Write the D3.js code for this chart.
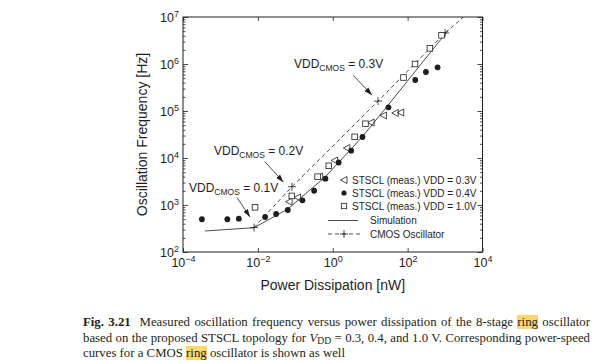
<!DOCTYPE html>
<html>
<head>
<meta charset="utf-8">
<script src="https://cdn.jsdelivr.net/npm/d3@7"></script>
<style>
  body { margin: 0; background: #fff; }
  #wrap { position: relative; width: 600px; height: 362px; overflow: hidden; }
  section svg { position: absolute; left: 0; top: 0; }
  .cap { position: absolute; left: 83px; top: 315px; width: 507px;
         font-family: "Liberation Serif", "Times New Roman", serif; font-size: 12.8px;
         color: #231f20; line-height: 15.5px; }
  .cap div { white-space: nowrap; }
  .cap .j { text-align: justify; text-align-last: justify; }
  .cap sub { font-size: 0.75em; vertical-align: -0.25em; line-height: 0; }
  mark { background: #fbd772; color: inherit; padding: 0; }
</style>
</head>
<body>
<div id="wrap">
  <section></section>
  <div class="cap">
    <div class="j"><b>Fig. 3.21</b>&nbsp; Measured oscillation frequency versus power dissipation of the 8-stage <mark>ring</mark> oscillator</div>
    <div class="j">based on the proposed STSCL topology for <i>V</i><sub>DD</sub> = 0.3, 0.4, and 1.0 V. Corresponding power-speed</div>
    <div>curves for a CMOS <mark>ring</mark> oscillator is shown as well</div>
  </div>
</div>
<script>
// power in nW, frequency in Hz
const power03 = [0.0682, 0.115, 0.447, 1.12, 2.38, 10.6, 22.7, 46.8, 65.3];
const freq03  = [1175, 1445, 4040, 8850, 16300, 56900, 80200, 90600, 92900];

const power04 = [3.2e-4, 1.53e-3, 3.1e-3, 0.0156, 0.0307, 0.063, 0.155, 0.318, 0.638, 1.44, 3.10, 6.22, 30.8, 160, 308, 631];
const freq04  = [497, 497, 512, 556, 644, 783, 1260, 2010, 3630, 8020, 14300, 28000, 120000, 457000, 676000, 851000];

const power10 = [8.4e-3, 0.0805, 0.394, 0.782, 3.85, 7.48, 77.6, 158, 393, 805];
const freq10  = [893, 1560, 4000, 6820, 28200, 53500, 516000, 1.0e6, 2.16e6, 4.08e6];

const simPower = [3.87e-4, 7.9e-3, 0.0615, 0.627, 6.11, 30.3, 1010, 1220];
const simFreq  = [280, 329, 811, 3940, 28000, 134000, 4.35e6, 5.28e6];

const cmosPower = [7.9e-3, 0.0813, 16.2, 1000, 3090];
const cmosFreq  = [331, 2450, 162000, 4.57e6, 1e7];
const cmosMarked = [true, true, true, true, false];

const xTicks = [1e-4, 1e-2, 1, 1e2, 1e4];
const yTicks = [1e2, 1e3, 1e4, 1e5, 1e6, 1e7];

const legendLabels = ['STSCL (meas.) VDD = 0.3V', 'STSCL (meas.) VDD = 0.4V', 'STSCL (meas.) VDD = 1.0V', 'Simulation', 'CMOS Oscillator'];
const notes = [
  { i: 2, label: ' = 0.3V' },
  { i: 1, label: ' = 0.2V' },
  { i: 0, label: ' = 0.1V' }
];

const L = 183, R = 482.5, T = 17, B = 252;
const ink = '#1e1e1e';
const font = '"Liberation Sans", Arial, Helvetica, sans-serif';

const svg = d3.select('section')
  .append('svg')
  .attr('width', 600)
  .attr('height', 312)
  .style('font-family', font);

const x = d3.scaleLog().domain([1e-4, 1e4]).range([L, R]);
const y = d3.scaleLog().domain([1e2, 1e7]).range([B, T]);

const yMinor = [];
for (let k = 2; k < 7; k++) d3.range(2, 10).forEach(m => yMinor.push(m * Math.pow(10, k)));

svg.append('defs').append('clipPath').attr('id', 'plot')
  .append('rect').attr('x', L).attr('y', T).attr('width', R - L).attr('height', B - T);

svg.select('defs').append('marker')
  .attr('id', 'head')
  .attr('markerUnits', 'userSpaceOnUse')
  .attr('markerWidth', 9).attr('markerHeight', 6)
  .attr('refX', 8).attr('refY', 3)
  .attr('orient', 'auto')
  .append('path').attr('d', 'M0,0.4 L8,3 L0,5.6 Z').attr('fill', ink);

function pow10(text) {
  text.each(function (d) {
    const e = Math.round(Math.log10(d));
    const t = d3.select(this).text(null);
    t.append('tspan').text('10');
    t.append('tspan').attr('dy', -5).attr('font-size', '9px').text(e < 0 ? '\u2212' + (-e) : e);
  });
}

function style(g) {
  g.attr('font-family', font).attr('font-size', 12.5);
  g.select('.domain').remove();
  g.selectAll('line').attr('stroke', ink).attr('stroke-width', 0.8);
  g.selectAll('text').attr('fill', ink);
}

// axes
svg.append('g').attr('transform', `translate(0,${B})`)
  .call(d3.axisBottom(x).tickValues(xTicks).tickSizeInner(-4).tickSizeOuter(0).tickPadding(6))
  .call(style)
  .call(g => g.selectAll('text').call(pow10));
svg.append('g').attr('transform', `translate(0,${T})`)
  .call(d3.axisTop(x).tickValues(xTicks).tickSizeInner(-4).tickSizeOuter(0).tickFormat(''))
  .call(style);
svg.append('g').attr('transform', `translate(${L},0)`)
  .call(d3.axisLeft(y).tickValues(yTicks).tickSizeInner(-5).tickSizeOuter(0).tickPadding(4))
  .call(style)
  .call(g => g.selectAll('text').call(pow10));
svg.append('g').attr('transform', `translate(${L},0)`)
  .call(d3.axisLeft(y).tickValues(yMinor).tickSizeInner(-2.5).tickSizeOuter(0).tickFormat(''))
  .call(style);
svg.append('g').attr('transform', `translate(${R},0)`)
  .call(d3.axisRight(y).tickValues(yTicks).tickSizeInner(-5).tickSizeOuter(0).tickFormat(''))
  .call(style);
svg.append('g').attr('transform', `translate(${R},0)`)
  .call(d3.axisRight(y).tickValues(yMinor).tickSizeInner(-2.5).tickSizeOuter(0).tickFormat(''))
  .call(style);

svg.append('rect')
  .attr('x', L).attr('y', T).attr('width', R - L).attr('height', B - T)
  .attr('fill', 'none').attr('stroke', ink).attr('stroke-width', 1);

svg.append('text')
  .attr('x', x(1)).attr('y', 290)
  .attr('text-anchor', 'middle').attr('font-size', 14).attr('fill', ink)
  .text('Power Dissipation [nW]');
svg.append('text')
  .attr('transform', `translate(147,${(T + B) / 2}) rotate(-90)`)
  .attr('text-anchor', 'middle').attr('font-size', 14).attr('fill', ink)
  .text('Oscillation Frequency [Hz]');

// lines
const plot = svg.append('g').attr('clip-path', 'url(#plot)');
const line = d3.line().x(d => x(d[0])).y(d => y(d[1]));

plot.append('path')
  .datum(d3.zip(simPower, simFreq))
  .attr('d', line)
  .attr('fill', 'none').attr('stroke', ink).attr('stroke-width', 0.8);

plot.append('path')
  .datum(d3.zip(cmosPower, cmosFreq))
  .attr('d', line)
  .attr('fill', 'none').attr('stroke', ink).attr('stroke-width', 0.8)
  .attr('stroke-dasharray', '4,3');

const plus = (sel, s) => sel.append('path')
  .attr('d', `M${-s},0H${s}M0,${-s}V${s}`)
  .attr('stroke', ink).attr('stroke-width', 0.8).attr('fill', 'none');
const tri = 'M-3.5,0L3,-3.5L3,3.5Z';

const cmosPts = d3.zip(cmosPower, cmosFreq).filter((d, i) => cmosMarked[i]);
plot.selectAll('.cmos')
  .data(cmosPts)
  .enter()
  .append('g')
  .attr('class', 'cmos')
  .attr('transform', d => `translate(${x(d[0])},${y(d[1])})`)
  .each(function () { plus(d3.select(this), 4); });

plot.selectAll('.p03')
  .data(d3.zip(power03, freq03))
  .enter()
  .append('path')
  .attr('class', 'p03')
  .attr('d', tri)
  .attr('transform', d => `translate(${x(d[0])},${y(d[1])})`)
  .attr('fill', 'none').attr('stroke', ink).attr('stroke-width', 0.8);

plot.selectAll('.p10')
  .data(d3.zip(power10, freq10))
  .enter()
  .append('rect')
  .attr('class', 'p10')
  .attr('x', d => x(d[0]) - 2.8).attr('y', d => y(d[1]) - 2.8)
  .attr('width', 5.6).attr('height', 5.6)
  .attr('fill', '#fff').attr('stroke', ink).attr('stroke-width', 0.8);

plot.selectAll('.p04')
  .data(d3.zip(power04, freq04))
  .enter()
  .append('circle')
  .attr('class', 'p04')
  .attr('r', 2.9)
  .attr('cx', d => x(d[0]))
  .attr('cy', d => y(d[1]))
  .attr('fill', ink);

// annotations
const noteText = [[294, 68], [214, 154.5], [189, 192]];
const noteArrow = [[[-25, -26], [-6, -6]], [[-27, -25], [-8.5, -4.5]], [[-17, -30], [-4, -10.5]]];
notes.forEach((n, k) => {
  const px = x(cmosPower[n.i]), py = y(cmosFreq[n.i]);
  const t = svg.append('text')
    .attr('x', noteText[k][0]).attr('y', noteText[k][1])
    .attr('font-size', 12).attr('fill', ink);
  t.append('tspan').text('VDD');
  t.append('tspan').attr('font-size', 8.5).attr('dy', 3).text('CMOS');
  t.append('tspan').attr('dy', -3).text(n.label);
  svg.append('line')
    .attr('x1', px + noteArrow[k][0][0]).attr('y1', py + noteArrow[k][0][1])
    .attr('x2', px + noteArrow[k][1][0]).attr('y2', py + noteArrow[k][1][1])
    .attr('stroke', ink).attr('stroke-width', 0.8)
    .attr('marker-end', 'url(#head)');
});

// legend
const lg = svg.append('g').attr('font-size', 10).attr('fill', ink);
const rows = [180, 193, 206, 220.5, 234];
legendLabels.forEach((label, i) => {
  const ry = rows[i];
  lg.append('text').attr('x', i < 3 ? 352 : 370).attr('y', ry + 3.5).text(label);
});
lg.append('path').attr('d', tri).attr('transform', `translate(344,${rows[0]})`)
  .attr('fill', 'none').attr('stroke', ink).attr('stroke-width', 0.8);
lg.append('circle').attr('cx', 344).attr('cy', rows[1]).attr('r', 2.6).attr('fill', ink);
lg.append('rect').attr('x', 341.3).attr('y', rows[2] - 2.7).attr('width', 5.4).attr('height', 5.4)
  .attr('fill', 'none').attr('stroke', ink).attr('stroke-width', 0.8);
lg.append('line').attr('x1', 328).attr('x2', 358).attr('y1', rows[3]).attr('y2', rows[3])
  .attr('stroke', ink).attr('stroke-width', 0.8);
lg.append('line').attr('x1', 328).attr('x2', 360).attr('y1', rows[4]).attr('y2', rows[4])
  .attr('stroke', ink).attr('stroke-width', 0.8).attr('stroke-dasharray', '4,3');
lg.append('g').attr('transform', `translate(344,${rows[4]})`).call(g => plus(g, 4));
</script>
</body>
</html>
